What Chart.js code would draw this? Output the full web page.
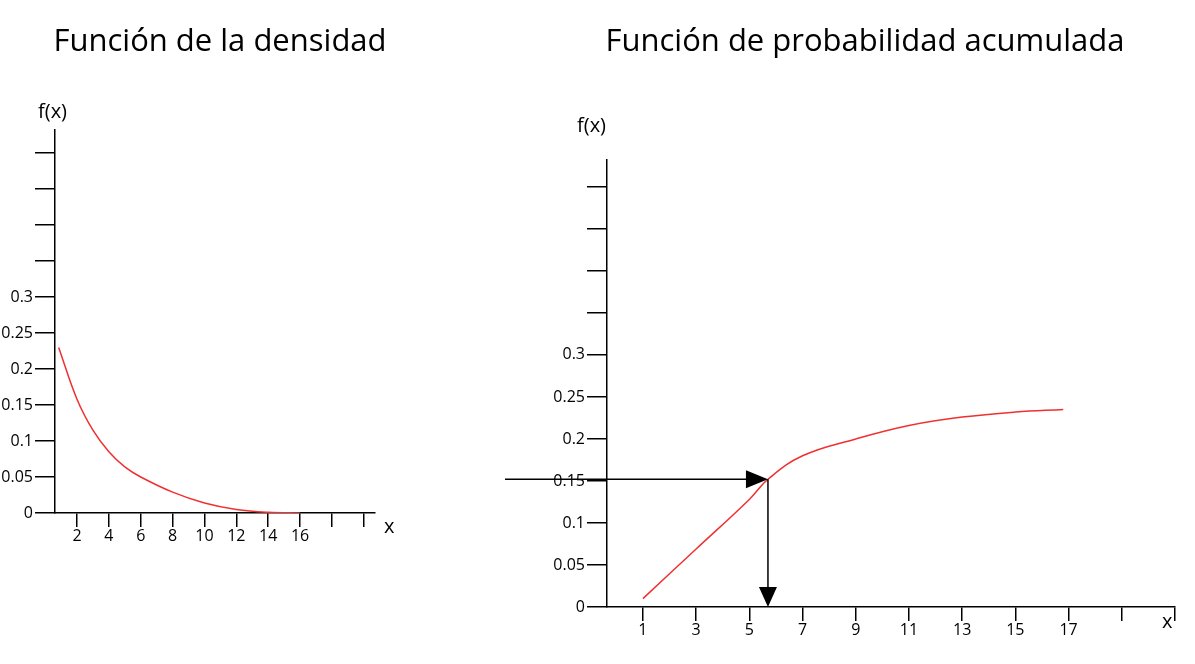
<!DOCTYPE html>
<html><head><meta charset="utf-8">
<script src="https://cdn.jsdelivr.net/npm/chart.js@4"></script>
<style>body{margin:0;background:#fff;width:1195px;height:664px;position:relative;overflow:hidden}
canvas{position:absolute;top:0}</style></head><body>
<canvas id="c1" width="420" height="664" style="left:0"></canvas>
<canvas id="c2" width="715" height="664" style="left:480px"></canvas>
<script>
const densX=[0.85,2,3,4,5,6,8,10,12,14,16];
const densY=[0.23,0.158,0.115,0.085,0.064,0.05,0.029,0.014,0.005,0.001,0];
const cumX=[1,3,5,5.7,7,9,11,13,15,16.8];
const cumY=[0.01,0.069,0.128,0.152,0.18,0.2,0.216,0.226,0.232,0.235];
const leftXTicks=[2,4,6,8,10,12,14,16,18,20];
const rightXTicks=[1,3,5,7,9,11,13,15,17,19,21];
const yTicks=[0,0.05,0.1,0.15,0.2,0.25,0.3,0.35,0.4,0.45,0.5];
const leftXLabelMax=16, rightXLabelMax=17, yLabelMax=0.3;
const arrowX=5.7, arrowY=0.152;
const FONT='"Open Sans", sans-serif';

function mk(id,xs,ys,opt){
  const deco={id:'deco',afterDraw(ch){
    const c=ch.ctx;c.save();
    c.fillStyle='#000';c.font='31px '+FONT;c.textAlign='center';c.textBaseline='middle';
    c.fillText(opt.title,opt.titleX,42);
    c.font='20px '+FONT;c.textAlign='left';
    c.fillText('f(x)',opt.fx[0],opt.fx[1]);c.fillText('x',opt.xx[0],opt.xx[1]);
    if(opt.arrow){
      const X=ch.scales.x,Y=ch.scales.y;
      const px=X.getPixelForValue(arrowX),py=Y.getPixelForValue(arrowY),py0=Y.getPixelForValue(0);
      c.strokeStyle='#000';c.lineWidth=1.5;c.beginPath();
      c.moveTo(25,py);c.lineTo(px-20,py);c.moveTo(px,py);c.lineTo(px,py0-18);c.stroke();
      c.beginPath();c.moveTo(px,py);c.lineTo(px-22,py-9);c.lineTo(px-22,py+9);c.closePath();c.fill();
      c.beginPath();c.moveTo(px,py0);c.lineTo(px-9,py0-20);c.lineTo(px+9,py0-20);c.closePath();c.fill();
    }
    c.restore();}};
  return new Chart(document.getElementById(id),{type:'line',
    data:{datasets:[{data:xs.map((x,i)=>({x,y:ys[i]})),borderColor:'#f03030',borderWidth:1.5,pointRadius:0,tension:0.4}]},
    options:{responsive:false,animation:false,events:[],
      layout:{padding:{top:opt.top,right:opt.right,left:0,bottom:0}},
      plugins:{legend:{display:false},tooltip:{enabled:false}},
      scales:{
        x:{type:'linear',min:opt.xmin,max:opt.xmax,afterBuildTicks:s=>{s.ticks=opt.xt.map(v=>({value:v}))},
          afterFit:s=>{s.height=opt.xh},
          border:{color:'#000',width:1.5},grid:{drawOnChartArea:false,color:'#000',tickLength:14,lineWidth:1.5},
          ticks:{color:'#000',font:{size:16,family:FONT},padding:0,maxRotation:0,autoSkip:false,
            callback:v=>v<=opt.xl?String(v):''}},
        y:{type:'linear',min:0,max:0.532,afterBuildTicks:s=>{s.ticks=yTicks.map(v=>({value:v}))},
          afterFit:s=>{s.width=opt.yw},
          border:{color:'#000',width:1.5},grid:{drawOnChartArea:false,color:'#000',tickLength:20,lineWidth:1.5},
          ticks:{color:'#000',font:{size:16,family:FONT},padding:2,autoSkip:false,
            callback:v=>v<=yLabelMax+1e-9?String(+v.toFixed(2)):''}}}},
    plugins:[deco]});
}
mk('c1',densX,densY,{title:'Función de la densidad',titleX:220,top:130,right:45,xh:151,yw:55,
  xmin:0.62,xmax:20.7,xt:leftXTicks,xl:leftXLabelMax,fx:[38,112],xx:[384,527]});
mk('c2',cumX,cumY,{title:'Función de probabilidad acumulada',titleX:385,top:160,right:20,xh:57,yw:127,
  xmin:-0.35,xmax:21.0,xt:rightXTicks,xl:rightXLabelMax,fx:[97,126],xx:[682,622],arrow:true});
</script></body></html>
